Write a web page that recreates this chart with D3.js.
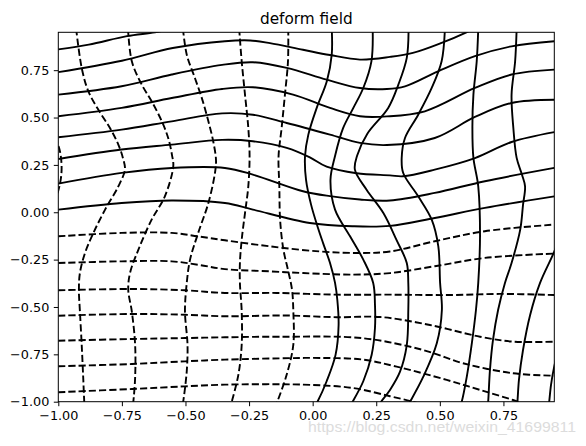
<!DOCTYPE html>
<html>
<head>
<meta charset="utf-8">
<script src="https://cdn.jsdelivr.net/npm/d3@7"></script>
<style>
body { margin: 0; background: #fff; }
svg { display: block; font-family: "DejaVu Sans", sans-serif; }
</style>
</head>
<body>
<div id="chart"></div>
<script>
const xTicks = [-1, -0.75, -0.5, -0.25, 0, 0.25, 0.5, 0.75];
const yTicks = [-1, -0.75, -0.5, -0.25, 0, 0.25, 0.5, 0.75];

// contours of the y component, positive levels (solid)
const solidRows = [
    [[-1,0.86],[-0.88,0.885],[-0.73,0.93],[-0.62,0.95],[-0.55,0.97]],
    [[-1,0.74],[-0.75,0.8],[-0.55,0.867],[-0.345,0.903],[-0.246,0.907],[-0.168,0.893],[-0.038,0.858],[0.068,0.83],[0.186,0.806],[0.304,0.82],[0.394,0.841],[0.507,0.894],[0.6,0.947],[0.64,0.975]],
    [[-1,0.621],[-0.751,0.665],[-0.554,0.727],[-0.356,0.778],[-0.235,0.792],[-0.102,0.762],[0.055,0.7],[0.186,0.656],[0.292,0.651],[0.363,0.665],[0.493,0.744],[0.638,0.824],[0.782,0.876],[0.95,0.903]],
    [[-1,0.507],[-0.751,0.551],[-0.554,0.603],[-0.356,0.651],[-0.235,0.66],[-0.077,0.621],[0.068,0.551],[0.186,0.507],[0.292,0.506],[0.441,0.533],[0.638,0.656],[0.782,0.727],[0.95,0.753]],
    [[-1,0.396],[-0.751,0.436],[-0.554,0.48],[-0.356,0.522],[-0.235,0.515],[-0.102,0.471],[0.068,0.41],[0.186,0.366],[0.292,0.355],[0.48,0.392],[0.638,0.503],[0.782,0.577],[0.95,0.594]],
    [[-1,0.281],[-0.751,0.331],[-0.554,0.357],[-0.356,0.382],[-0.235,0.375],[-0.102,0.34],[-0.011,0.29],[0.055,0.241],[0.173,0.206],[0.304,0.195],[0.355,0.19],[0.48,0.225],[0.638,0.286],[0.782,0.371],[0.95,0.423]],
    [[-1,0.151],[-0.751,0.208],[-0.554,0.234],[-0.345,0.234],[-0.235,0.199],[-0.038,0.111],[0.068,0.085],[0.186,0.067],[0.304,0.062],[0.48,0.102],[0.677,0.164],[0.95,0.234]],
    [[-1,0.014],[-0.751,0.049],[-0.554,0.062],[-0.345,0.049],[-0.235,0.014],[-0.011,-0.057],[0.159,-0.074],[0.304,-0.072],[0.48,-0.03],[0.677,0.023],[0.95,0.084]]
];

// contours of the y component, negative levels (dashed)
const dashedRows = [
    [[-1,-0.127],[-0.751,-0.109],[-0.554,-0.109],[-0.451,-0.127],[-0.345,-0.148],[-0.168,-0.18],[0.029,-0.207],[0.186,-0.215],[0.304,-0.207],[0.48,-0.153],[0.677,-0.1],[0.95,-0.065]],
    [[-1,-0.268],[-0.751,-0.259],[-0.554,-0.259],[-0.451,-0.277],[-0.345,-0.3],[-0.168,-0.312],[-0.038,-0.321],[0.159,-0.329],[0.304,-0.321],[0.48,-0.285],[0.677,-0.241],[0.95,-0.218]],
    [[-1,-0.412],[-0.711,-0.405],[-0.502,-0.412],[-0.345,-0.426],[-0.141,-0.426],[0.095,-0.435],[0.304,-0.435],[0.54,-0.437],[0.736,-0.431],[0.95,-0.437]],
    [[-1,-0.546],[-0.711,-0.537],[-0.502,-0.541],[-0.345,-0.549],[-0.102,-0.545],[0.095,-0.554],[0.266,-0.553],[0.461,-0.595],[0.658,-0.657],[0.788,-0.683],[0.95,-0.683]],
    [[-1,-0.678],[-0.711,-0.669],[-0.502,-0.664],[-0.345,-0.66],[-0.129,-0.657],[0.198,-0.665],[0.434,-0.727],[0.591,-0.797],[0.788,-0.85],[0.95,-0.863]],
    [[-1,-0.813],[-0.711,-0.801],[-0.502,-0.787],[-0.345,-0.778],[-0.129,-0.771],[0.029,-0.769],[0.198,-0.778],[0.33,-0.815],[0.527,-0.885],[0.658,-0.938],[0.788,-0.991],[0.86,-1.025]],
    [[-1,-0.95],[-0.711,-0.933],[-0.502,-0.919],[-0.345,-0.91],[-0.038,-0.91],[0.159,-0.928],[0.304,-0.971],[0.394,-1],[0.44,-1.02]]
];

// contours of the x component, positive levels (solid)
const solidCols = [
    [[0.075,0.97],[0.075,0.832],[0.056,0.693],[0.016,0.551],[-0.017,0.41],[-0.03,0.297],[-0.026,0.171],[-0.006,0.039],[0.021,-0.083],[0.041,-0.163],[0.068,-0.267],[0.088,-0.373],[0.097,-0.463],[0.102,-0.595],[0.09,-0.753],[0.055,-0.892],[0.019,-1],[0.01,-1.02]],
    [[0.236,0.97],[0.231,0.797],[0.199,0.656],[0.16,0.551],[0.12,0.445],[0.088,0.297],[0.07,0.171],[0.088,0.014],[0.147,-0.127],[0.199,-0.25],[0.238,-0.373],[0.245,-0.488],[0.245,-0.611],[0.232,-0.752],[0.199,-0.892],[0.157,-1],[0.148,-1.02]],
    [[0.377,0.97],[0.37,0.815],[0.337,0.674],[0.297,0.551],[0.215,0.415],[0.175,0.3],[0.166,0.225],[0.212,0.119],[0.278,-0.004],[0.33,-0.147],[0.37,-0.268],[0.376,-0.373],[0.376,-0.516],[0.37,-0.701],[0.343,-0.843],[0.304,-0.938],[0.269,-1],[0.26,-1.02]],
    [[0.52,0.97],[0.507,0.797],[0.468,0.656],[0.415,0.515],[0.363,0.392],[0.35,0.286],[0.356,0.207],[0.415,0.084],[0.468,-0.039],[0.494,-0.18],[0.501,-0.373],[0.508,-0.516],[0.488,-0.692],[0.435,-0.868],[0.383,-1],[0.37,-1.03]],
    [[0.651,0.97],[0.645,0.797],[0.632,0.621],[0.628,0.445],[0.632,0.287],[0.651,0.137],[0.658,-0.127],[0.651,-0.373],[0.642,-0.516],[0.626,-0.69],[0.606,-0.868],[0.586,-1],[0.58,-1.02]],
    [[0.802,0.97],[0.796,0.797],[0.782,0.621],[0.789,0.445],[0.802,0.287],[0.823,0.198],[0.835,0.137],[0.827,0.039],[0.816,-0.092],[0.782,-0.268],[0.756,-0.373],[0.729,-0.516],[0.709,-0.674],[0.697,-0.833],[0.69,-1],[0.688,-1.02]],
    [[0.975,-0.1],[0.953,-0.197],[0.894,-0.373],[0.855,-0.542],[0.827,-0.727],[0.811,-0.885],[0.805,-1],[0.803,-1.02]],
    [[0.975,-0.68],[0.95,-0.812],[0.937,-0.912],[0.93,-1],[0.928,-1.02]]
];

// contours of the x component, negative levels (dashed)
const dashedCols = [
    [[-1.03,0.45],[-0.995,0.33],[-0.987,0.24],[-0.992,0.16],[-1.01,0.07],[-1.03,0.0]],
    [[-0.93,0.97],[-0.908,0.762],[-0.882,0.639],[-0.843,0.542],[-0.797,0.445],[-0.764,0.357],[-0.746,0.287],[-0.738,0.225],[-0.764,0.137],[-0.816,0.014],[-0.862,-0.109],[-0.895,-0.215],[-0.915,-0.32],[-0.919,-0.41],[-0.915,-0.523],[-0.908,-0.699],[-0.902,-0.875],[-0.898,-1],[-0.897,-1.02]],
    [[-0.726,0.97],[-0.711,0.797],[-0.672,0.674],[-0.633,0.586],[-0.593,0.48],[-0.568,0.392],[-0.553,0.302],[-0.548,0.242],[-0.581,0.084],[-0.633,-0.039],[-0.685,-0.197],[-0.718,-0.32],[-0.725,-0.41],[-0.711,-0.523],[-0.698,-0.699],[-0.698,-0.875],[-0.705,-1],[-0.707,-1.02]],
    [[-0.51,0.97],[-0.495,0.832],[-0.463,0.709],[-0.436,0.604],[-0.41,0.48],[-0.391,0.375],[-0.38,0.276],[-0.384,0.208],[-0.41,0.049],[-0.45,-0.109],[-0.482,-0.25],[-0.495,-0.373],[-0.502,-0.523],[-0.492,-0.699],[-0.495,-0.839],[-0.509,-1],[-0.512,-1.02]],
    [[-0.289,0.97],[-0.279,0.797],[-0.266,0.621],[-0.253,0.445],[-0.248,0.296],[-0.253,0.137],[-0.266,-0.004],[-0.279,-0.145],[-0.286,-0.268],[-0.286,-0.373],[-0.279,-0.523],[-0.279,-0.699],[-0.292,-0.857],[-0.318,-1],[-0.322,-1.02]],
    [[-0.096,0.97],[-0.097,0.797],[-0.109,0.621],[-0.122,0.445],[-0.134,0.297],[-0.131,0.137],[-0.128,-0.039],[-0.115,-0.197],[-0.097,-0.305],[-0.081,-0.41],[-0.076,-0.523],[-0.076,-0.699],[-0.102,-0.857],[-0.139,-1],[-0.145,-1.02]]
];

const width = 586;
const height = 446;
const margin = {top: 32.3, right: 31.7, bottom: 44.3, left: 58.3};

const svg = d3.select("#chart").append("svg")
    .attr("width", width)
    .attr("height", height);

const x = d3.scaleLinear()
    .domain([-1, 0.95])
    .range([margin.left, width - margin.right]);

const y = d3.scaleLinear()
    .domain([-1, 0.95])
    .range([height - margin.bottom, margin.top]);

svg.append("clipPath")
    .attr("id", "plot-clip")
    .append("rect")
    .attr("x", x(-1))
    .attr("y", y(0.95))
    .attr("width", x(0.95) - x(-1))
    .attr("height", y(-1) - y(0.95));

const line = d3.line()
    .x(d => x(d[0]))
    .y(d => y(d[1]))
    .curve(d3.curveCatmullRom.alpha(0.5));

const plot = svg.append("g").attr("clip-path", "url(#plot-clip)");

function drawSet(lines, dashed) {
    plot.append("g")
        .selectAll("path")
        .data(lines)
        .enter().append("path")
        .attr("d", line)
        .attr("fill", "none")
        .attr("stroke", "#000")
        .attr("stroke-width", 1.9)
        .attr("stroke-dasharray", dashed ? "7.1,3.1" : null);
}

drawSet(solidRows, false);
drawSet(dashedRows, true);
drawSet(solidCols, false);
drawSet(dashedCols, true);

// axes
const fmt = d3.format(".2f");

const xAxis = svg.append("g")
    .attr("transform", `translate(0,${y(-1)})`)
    .call(d3.axisBottom(x).tickValues(xTicks).tickFormat(fmt).tickSize(4.5).tickPadding(4.5));

const yAxis = svg.append("g")
    .attr("transform", `translate(${x(-1)},0)`)
    .call(d3.axisLeft(y).tickValues(yTicks).tickFormat(fmt).tickSize(4.5).tickPadding(4.5));

[xAxis, yAxis].forEach(g => {
    g.select(".domain").remove();
    g.attr("font-size", 12.8).attr("font-family", "DejaVu Sans");
    g.selectAll("line").attr("stroke", "#000").attr("stroke-width", 1);
    g.selectAll("text").attr("fill", "#000");
});

// frame
svg.append("rect")
    .attr("x", x(-1))
    .attr("y", y(0.95))
    .attr("width", x(0.95) - x(-1))
    .attr("height", y(-1) - y(0.95))
    .attr("fill", "none")
    .attr("stroke", "#000")
    .attr("stroke-width", 1);

// title
svg.append("text")
    .attr("x", (x(-1) + x(0.95)) / 2)
    .attr("y", 24)
    .attr("text-anchor", "middle")
    .attr("font-size", 15.3)
    .attr("fill", "#000")
    .text("deform field");

// watermark
svg.append("text")
    .attr("x", 308)
    .attr("y", 432)
    .attr("font-size", 14)
    .attr("font-family", "Liberation Sans, Arial, sans-serif")
    .attr("fill", "#dcdcdc")
    .attr("textLength", 268)
    .attr("lengthAdjust", "spacingAndGlyphs")
    .text("https://blog.csdn.net/weixin_41699811");
</script>
</body>
</html>
